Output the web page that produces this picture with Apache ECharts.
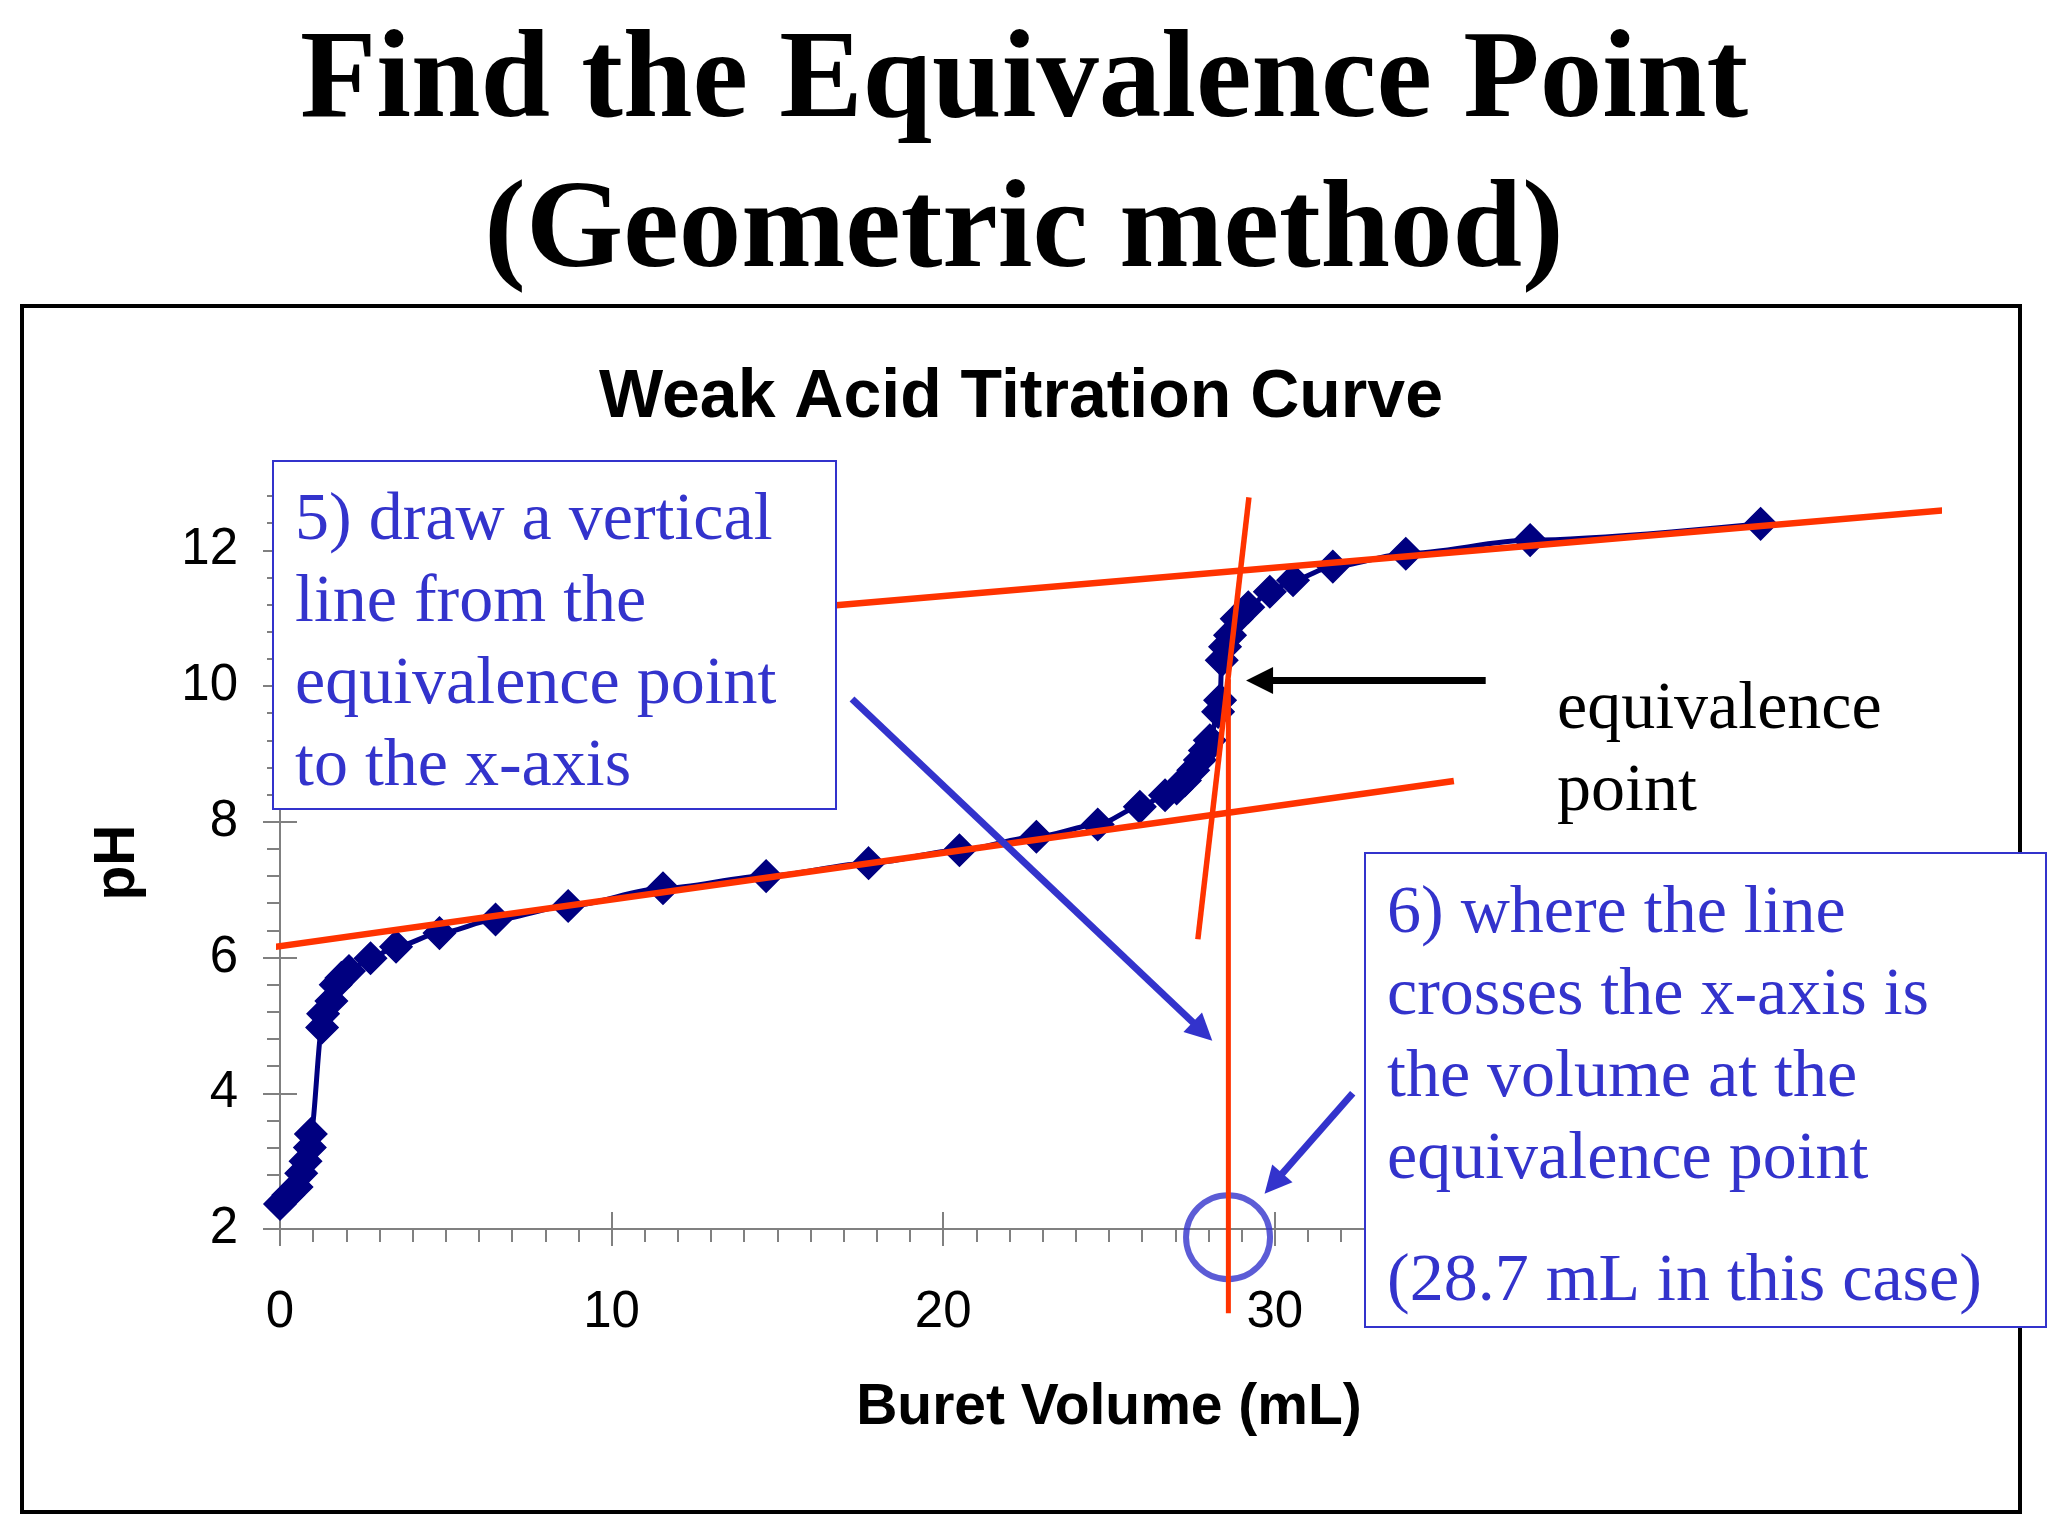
<!DOCTYPE html>
<html>
<head>
<meta charset="utf-8">
<title>Find the Equivalence Point (Geometric method)</title>
<script src="https://cdn.jsdelivr.net/npm/echarts@6.0.0/dist/echarts.min.js"></script>
<style>
  html, body { margin: 0; padding: 0; background: #fff; }
  #chart { width: 2048px; height: 1536px; }
</style>
</head>
<body>
<div id="chart"></div>
<script>
// titration readings: buret volume (mL) and measured pH
const volume = [0, 0.25, 0.5, 0.64, 0.77, 0.9, 0.93, 1.27, 1.3, 1.55, 1.68, 1.85, 2.08, 2.73, 3.5, 4.81, 6.5, 8.69,
  11.55, 14.66, 17.75, 20.49, 22.81, 24.66, 25.93, 26.69, 27.04, 27.29, 27.54, 27.74, 27.89, 28.04, 28.29, 28.35,
  28.4, 28.5, 28.65, 28.85, 29.2, 29.85, 30.55, 31.75, 33.95, 37.7, 44.65];
const pH = [2.37, 2.5, 2.62, 2.82, 3.0, 3.2, 3.4, 4.97, 5.17, 5.36, 5.6, 5.7, 5.8, 5.99, 6.16, 6.36, 6.56, 6.76,
  7.02, 7.2, 7.39, 7.58, 7.78, 7.96, 8.22, 8.39, 8.49, 8.61, 8.76, 8.91, 9.05, 9.2, 9.62, 9.79,
  10.38, 10.58, 10.75, 10.99, 11.16, 11.39, 11.56, 11.76, 11.95, 12.15, 12.39];

// tick labels
const xTickLabels = [0, 10, 20, 30, 40, 50];
const yTickLabels = [2, 4, 6, 8, 10, 12];

// geometric construction, in axis units (mL, pH)
const equivalenceVolume = 28.6;
const lowerLine = [[-1.1, 6.09], [35.4, 8.6]];
const upperLine = [[16.77, 11.19], [51.2, 12.63]];
const tangentLine = [[27.68, 6.27], [29.22, 12.78]];
const verticalLine = [[equivalenceVolume, 10.1], [equivalenceVolume, 0.76]];
const crossing = [[28.59, 1.88]];
const arrowToPoint = [[36.36, 10.08], [29.54, 10.08]];
const arrowToLine = [[17.25, 9.81], [27.82, 4.91]];
const arrowToCircle = [[32.35, 4.0], [29.96, 2.67]];

const NAVY = '#000080';
const RED = '#ff3300';
const BLUE = '#3333cc';
const AXIS = '#808080';
const serif = '"Liberation Serif", "Times New Roman", serif';
const sans = '"Liberation Sans", Arial, sans-serif';

const curve = volume.map((v, i) => [v, pH[i]]);

const redLine = (data, width) => ({
    type: 'line',
    data: data,
    symbol: 'none',
    clip: false,
    silent: true,
    z: 4,
    lineStyle: { color: RED, width: width }
})

const arrows = (list, color, width) => ({
    type: 'line',
    data: [],
    clip: false,
    silent: true,
    z: 5,
    markLine: {
        silent: true,
        animation: false,
        symbol: ['none', 'triangle'],
        symbolSize: [27, 27],
        label: { show: false },
        emphasis: { disabled: true },
        lineStyle: { color: color, width: width, type: 'solid' },
        data: list.map(a => [{ coord: a[0] }, { coord: a[1] }])
    }
})

const tickStyle = { color: AXIS, width: 2 };

const option = {
    animation: false,
    backgroundColor: '#fff',
    title: [
        {
            text: 'Find the Equivalence Point\n(Geometric method)',
            left: 'center',
            top: 9,
            padding: 0,
            textStyle: { fontFamily: serif, fontWeight: 'bold', fontSize: 125, lineHeight: 150, color: '#000' }
        },
        {
            text: 'Weak Acid Titration Curve',
            left: 1021,
            textAlign: 'center',
            top: 364,
            padding: 0,
            textStyle: { fontFamily: sans, fontWeight: 'bold', fontSize: 68, lineHeight: 68, color: '#000' }
        }
    ],
    grid: { left: 280, right: 110, top: 496, bottom: 307, containLabel: false },
    xAxis: [
        {
            type: 'value', position: 'bottom', min: 0, max: 50, interval: 1,
            name: 'Buret Volume (mL)', nameLocation: 'middle', nameGap: 151,
            nameTextStyle: { fontFamily: sans, fontWeight: 'bold', fontSize: 57, color: '#000' },
            axisLine: { show: true, onZero: false, lineStyle: tickStyle },
            axisTick: { show: true, inside: false, length: 13, lineStyle: tickStyle },
            axisLabel: {
                customValues: xTickLabels,
                formatter: v => (xTickLabels.includes(v) ? String(v) : ''),
                margin: 58, fontFamily: sans, fontSize: 51, color: '#000'
            },
            splitLine: { show: false }
        },
        {
            type: 'value', position: 'bottom', min: 0, max: 50, interval: 10,
            axisLine: { show: false, onZero: false },
            axisTick: { show: true, inside: true, length: 17, lineStyle: tickStyle },
            axisLabel: { show: false }, splitLine: { show: false }
        },
        {
            type: 'value', position: 'bottom', min: 0, max: 50, interval: 10,
            axisLine: { show: false, onZero: false },
            axisTick: { show: true, inside: false, length: 17, lineStyle: tickStyle },
            axisLabel: { show: false }, splitLine: { show: false }
        }
    ],
    yAxis: [
        {
            type: 'value', position: 'left', min: 2, max: 12.8, interval: 0.4,
            name: 'pH', nameLocation: 'middle', nameGap: 133, nameRotate: 90,
            nameTextStyle: { fontFamily: sans, fontWeight: 'bold', fontSize: 57, color: '#000' },
            axisLine: { show: true, onZero: false, lineStyle: tickStyle },
            axisTick: { show: true, inside: false, length: 13, lineStyle: tickStyle },
            axisLabel: {
                customValues: yTickLabels,
                formatter: v => (yTickLabels.includes(Math.round(v * 100) / 100) ? String(Math.round(v)) : ''),
                margin: 42, fontFamily: sans, fontSize: 51, color: '#000'
            },
            splitLine: { show: false }
        },
        {
            type: 'value', position: 'left', min: 2, max: 12.8, interval: 2,
            axisLine: { show: false, onZero: false },
            axisTick: { show: true, inside: true, length: 17, customValues: yTickLabels, lineStyle: tickStyle },
            axisLabel: { show: false }, splitLine: { show: false }
        },
        {
            type: 'value', position: 'left', min: 2, max: 12.8, interval: 2,
            axisLine: { show: false, onZero: false },
            axisTick: { show: true, inside: false, length: 17, customValues: yTickLabels, lineStyle: tickStyle },
            axisLabel: { show: false }, splitLine: { show: false }
        }
    ],
    series: [
        {
            name: 'pH',
            type: 'line',
            data: curve,
            smooth: 0.3,
            smoothMonotone: 'x',
            symbol: 'diamond',
            symbolSize: 32,
            z: 2,
            lineStyle: { color: NAVY, width: 5 },
            itemStyle: { color: NAVY, borderColor: NAVY, borderWidth: 1.5 }
        },
        {
            type: 'scatter',
            data: crossing,
            symbol: 'circle',
            symbolSize: 84,
            clip: false,
            silent: true,
            z: 3,
            itemStyle: { color: 'rgba(0,0,0,0)', borderColor: BLUE, borderWidth: 6 }
        },
        redLine(lowerLine, 6.5),
        redLine(upperLine, 6.5),
        redLine(tangentLine, 5.5),
        redLine(verticalLine, 5),
        arrows([arrowToPoint], '#000', 7),
        arrows([arrowToLine, arrowToCircle], BLUE, 7)
    ],
    graphic: [
        {
            type: 'rect', z: 1, silent: true,
            shape: { x: 22, y: 306, width: 1998, height: 1206 },
            style: { fill: 'none', stroke: '#000', lineWidth: 4 }
        },
        {
            type: 'rect', z: 100, silent: true,
            shape: { x: 273, y: 461, width: 563, height: 348 },
            style: { fill: '#fff', stroke: BLUE, lineWidth: 2 }
        },
        {
            type: 'text', z: 101, silent: true, x: 295, y: 480,
            style: {
                text: '5) draw a vertical\nline from the\nequivalence point\nto the x-axis',
                fontFamily: serif, fontSize: 68, lineHeight: 82, fill: BLUE, verticalAlign: 'top'
            }
        },
        {
            type: 'rect', z: 100, silent: true,
            shape: { x: 1365, y: 853, width: 681, height: 474 },
            style: { fill: '#fff', stroke: BLUE, lineWidth: 2 }
        },
        {
            type: 'text', z: 101, silent: true, x: 1387, y: 873,
            style: {
                text: '6) where the line\ncrosses the x-axis is\nthe volume at the\nequivalence point',
                fontFamily: serif, fontSize: 68, lineHeight: 82, fill: BLUE, verticalAlign: 'top'
            }
        },
        {
            type: 'text', z: 101, silent: true, x: 1387, y: 1241,
            style: {
                text: '(28.7 mL in this case)',
                fontFamily: serif, fontSize: 68, lineHeight: 82, fill: BLUE, verticalAlign: 'top'
            }
        },
        {
            type: 'text', z: 101, silent: true, x: 1557, y: 669,
            style: {
                text: 'equivalence\npoint',
                fontFamily: serif, fontSize: 68, lineHeight: 82, fill: '#000', verticalAlign: 'top'
            }
        }
    ]
}

const chart = echarts.init(document.getElementById('chart'))
chart.setOption(option)
</script>
</body>
</html>
